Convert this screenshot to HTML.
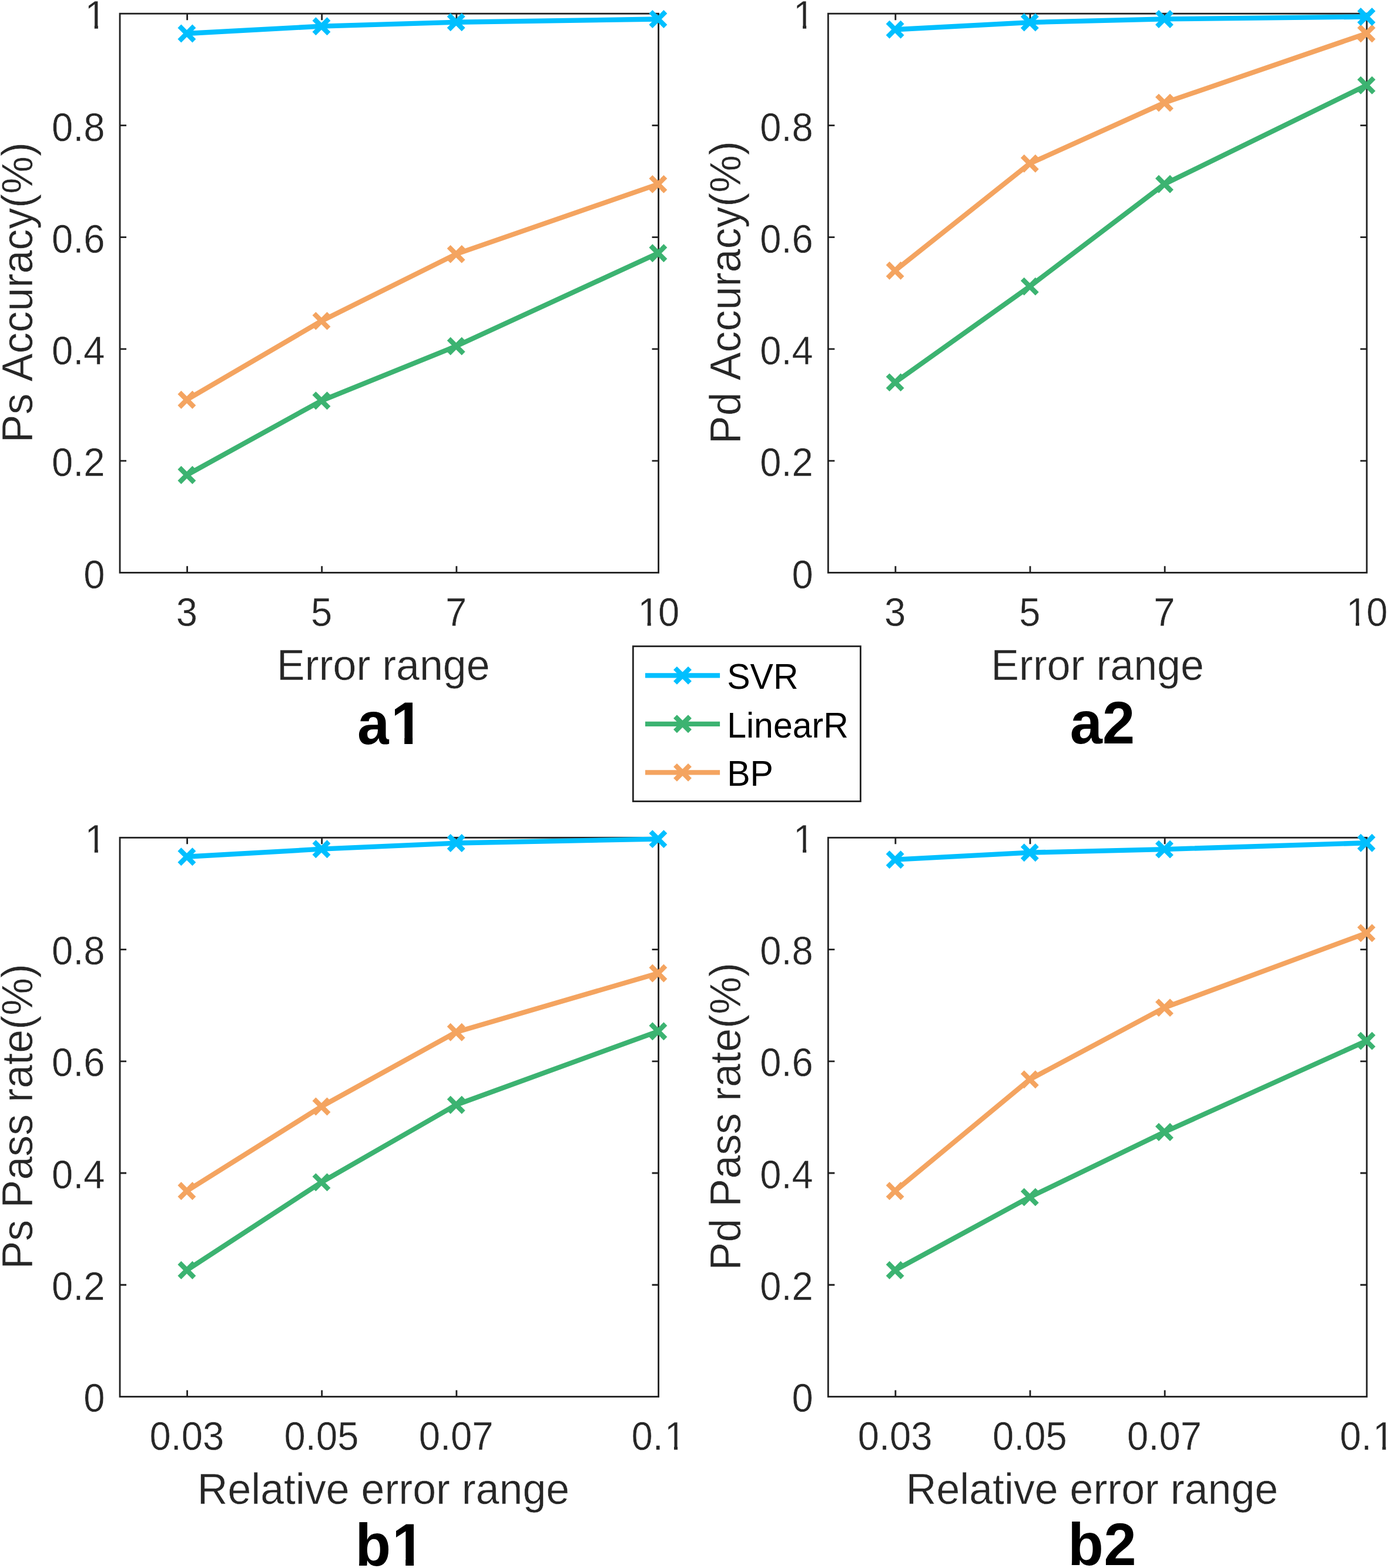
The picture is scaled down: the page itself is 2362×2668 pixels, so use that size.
<!DOCTYPE html>
<html lang="en">
<head>
<meta charset="utf-8">
<title>Accuracy and pass rate versus error range</title>
<style>
html,body{margin:0;padding:0;background:#fff;}
body{width:2362px;height:2668px;overflow:hidden;}
svg{display:block;}
text{font-family:"Liberation Sans",Arial,Helvetica,sans-serif;font-kerning:none;}
.tk{font-size:65.2px;fill:#262626;stroke:#fff;stroke-width:0.45px;}
.lb{font-size:71.7px;fill:#262626;stroke:#fff;stroke-width:0.5px;}
.yl{letter-spacing:0.1px;}
.tt{font-size:99.2px;font-weight:bold;fill:#000;}
.lg{font-size:59.0px;fill:#000;}
.ax{stroke:#202020;stroke-width:2.8;fill:none;}
.ln{fill:none;stroke-width:8.33;stroke-linejoin:round;stroke-linecap:butt;}
.mk{fill:none;stroke-width:8.33;stroke-linecap:butt;}
</style>
</head>
<body>
<svg width="2362" height="2668" viewBox="0 0 2362 2668">
<rect x="0" y="0" width="2362" height="2668" fill="#ffffff"/>

<defs><clipPath id="c10m"><path clip-rule="evenodd" d="M-120 -90H120V30H-120Z M-37.46 -6.07H-18.22V8H-37.46Z M-12.15 -6.07H0.12V8H-12.15Z"/></clipPath><clipPath id="c1e"><path clip-rule="evenodd" d="M-120 -90H120V30H-120Z M-36.96 -6.07H-17.72V8H-36.96Z M-11.65 -6.07H0.62V8H-11.65Z"/></clipPath><clipPath id="cta1"><path clip-rule="evenodd" d="M-20 -110H160V40H-20Z M54.2 -11.32H80.2V8H54.2Z M94.11 -11.32H111.11V8H94.11Z"/></clipPath><clipPath id="c0p1m"><path clip-rule="evenodd" d="M-120 -90H120V30H-120Z M7.86 -6.07H27.1V8H7.86Z M33.17 -6.07H45.43V8H33.17Z"/></clipPath><clipPath id="ctb1"><path clip-rule="evenodd" d="M-20 -110H160V40H-20Z M59.8 -11.32H85.8V8H59.8Z M99.71 -11.32H116.71V8H99.71Z"/></clipPath></defs>
<g id="a1">
<rect class="ax" x="204" y="23.2" width="916.6" height="951.2"/>
<path class="ax" d="M318.57 974.4v-11.05M318.57 23.2v11.05M547.73 974.4v-11.05M547.73 23.2v11.05M776.88 974.4v-11.05M776.88 23.2v11.05M204 784.16h11.05M1120.6 784.16h-11.05M204 593.92h11.05M1120.6 593.92h-11.05M204 403.68h11.05M1120.6 403.68h-11.05M204 213.44h11.05M1120.6 213.44h-11.05"/>
<text class="tk" transform="translate(317.88 1065.4) scale(1 1.05)" text-anchor="middle">3</text>
<text class="tk" transform="translate(547.02 1065.4) scale(1 1.05)" text-anchor="middle">5</text>
<text class="tk" transform="translate(776.17 1065.4) scale(1 1.05)" text-anchor="middle">7</text>
<text class="tk" transform="translate(1119.9 1065.4) scale(1 1.05)" x="-34.46 0" y="0" clip-path="url(#c10m)">10</text>
<text class="tk" transform="translate(178.5 1000.5) scale(1 1.05)" text-anchor="end">0</text>
<text class="tk" transform="translate(178.5 810.26) scale(1 1.05)" text-anchor="end">0.2</text>
<text class="tk" transform="translate(178.5 620.02) scale(1 1.05)" text-anchor="end">0.4</text>
<text class="tk" transform="translate(178.5 429.78) scale(1 1.05)" text-anchor="end">0.6</text>
<text class="tk" transform="translate(178.5 239.54) scale(1 1.05)" text-anchor="end">0.8</text>
<text class="tk" transform="translate(178.5 49.3) scale(1 1.05)" x="-33.96" y="0" clip-path="url(#c1e)">1</text>
<text class="lb" transform="translate(652.3 1157.1) scale(1 1.026)" text-anchor="middle">Error range</text>
<text class="lb yl" transform="translate(54.9 497.6) rotate(-90) scale(1 1.035)" text-anchor="middle">Ps Accuracy(%)</text>
<text class="tt" transform="translate(608 1265.6) scale(1 1.03)" x="0 57.2" y="0" clip-path="url(#cta1)">a1</text>
<polyline class="ln" stroke="#3CB371" points="317.88,808.23 547.02,681.81 776.17,588.97 1119.9,430.79"/>
<path class="mk" stroke="#3CB371" d="M305.38 795.73L330.38 820.73M305.38 820.73L330.38 795.73M534.52 669.31L559.52 694.31M534.52 694.31L559.52 669.31M763.67 576.47L788.67 601.47M763.67 601.47L788.67 576.47M1107.4 418.29L1132.4 443.29M1107.4 443.29L1132.4 418.29"/>
<polyline class="ln" stroke="#F4A460" points="317.88,680.19 547.02,546.17 776.17,432.41 1119.9,313.41"/>
<path class="mk" stroke="#F4A460" d="M305.38 667.69L330.38 692.69M305.38 692.69L330.38 667.69M534.52 533.67L559.52 558.67M534.52 558.67L559.52 533.67M763.67 419.91L788.67 444.91M763.67 444.91L788.67 419.91M1107.4 300.91L1132.4 325.91M1107.4 325.91L1132.4 300.91"/>
<polyline class="ln" stroke="#00BFFF" points="317.88,56.97 547.02,44.7 776.17,37.75 1119.9,32.52"/>
<path class="mk" stroke="#00BFFF" d="M305.38 44.47L330.38 69.47M305.38 69.47L330.38 44.47M534.52 32.2L559.52 57.2M534.52 57.2L559.52 32.2M763.67 25.25L788.67 50.25M763.67 50.25L788.67 25.25M1107.4 20.02L1132.4 45.02M1107.4 45.02L1132.4 20.02"/>
</g>
<g id="a2">
<rect class="ax" x="1409.3" y="23.2" width="916.6" height="951.2"/>
<path class="ax" d="M1523.88 974.4v-11.05M1523.88 23.2v11.05M1753.03 974.4v-11.05M1753.03 23.2v11.05M1982.17 974.4v-11.05M1982.17 23.2v11.05M1409.3 784.16h11.05M2325.9 784.16h-11.05M1409.3 593.92h11.05M2325.9 593.92h-11.05M1409.3 403.68h11.05M2325.9 403.68h-11.05M1409.3 213.44h11.05M2325.9 213.44h-11.05"/>
<text class="tk" transform="translate(1523.17 1065.4) scale(1 1.05)" text-anchor="middle">3</text>
<text class="tk" transform="translate(1752.33 1065.4) scale(1 1.05)" text-anchor="middle">5</text>
<text class="tk" transform="translate(1981.47 1065.4) scale(1 1.05)" text-anchor="middle">7</text>
<text class="tk" transform="translate(2325.2 1065.4) scale(1 1.05)" x="-34.46 0" y="0" clip-path="url(#c10m)">10</text>
<text class="tk" transform="translate(1383.8 1000.5) scale(1 1.05)" text-anchor="end">0</text>
<text class="tk" transform="translate(1383.8 810.26) scale(1 1.05)" text-anchor="end">0.2</text>
<text class="tk" transform="translate(1383.8 620.02) scale(1 1.05)" text-anchor="end">0.4</text>
<text class="tk" transform="translate(1383.8 429.78) scale(1 1.05)" text-anchor="end">0.6</text>
<text class="tk" transform="translate(1383.8 239.54) scale(1 1.05)" text-anchor="end">0.8</text>
<text class="tk" transform="translate(1383.8 49.3) scale(1 1.05)" x="-33.96" y="0" clip-path="url(#c1e)">1</text>
<text class="lb" transform="translate(1867.5 1157.1) scale(1 1.026)" text-anchor="middle">Error range</text>
<text class="lb yl" transform="translate(1260.2 497.6) rotate(-90) scale(1 1.035)" text-anchor="middle">Pd Accuracy(%)</text>
<text class="tt" transform="translate(1820.8 1264.8) scale(1 1.03)" x="0 55.2" y="0">a2</text>
<polyline class="ln" stroke="#3CB371" points="1523.17,650.61 1752.33,487.39 1981.47,313.32 2325.2,145.14"/>
<path class="mk" stroke="#3CB371" d="M1510.67 638.11L1535.67 663.11M1510.67 663.11L1535.67 638.11M1739.83 474.89L1764.83 499.89M1739.83 499.89L1764.83 474.89M1968.97 300.82L1993.97 325.82M1968.97 325.82L1993.97 300.82M2312.7 132.64L2337.7 157.64M2312.7 157.64L2337.7 132.64"/>
<polyline class="ln" stroke="#F4A460" points="1523.17,460.56 1752.33,278.31 1981.47,174.92 2325.2,56.97"/>
<path class="mk" stroke="#F4A460" d="M1510.67 448.06L1535.67 473.06M1510.67 473.06L1535.67 448.06M1739.83 265.81L1764.83 290.81M1739.83 290.81L1764.83 265.81M1968.97 162.42L1993.97 187.42M1968.97 187.42L1993.97 162.42M2312.7 44.47L2337.7 69.47M2312.7 69.47L2337.7 44.47"/>
<polyline class="ln" stroke="#00BFFF" points="1523.17,50.31 1752.33,38.04 1981.47,32.43 2325.2,28.53"/>
<path class="mk" stroke="#00BFFF" d="M1510.67 37.81L1535.67 62.81M1510.67 62.81L1535.67 37.81M1739.83 25.54L1764.83 50.54M1739.83 50.54L1764.83 25.54M1968.97 19.93L1993.97 44.93M1968.97 44.93L1993.97 19.93M2312.7 16.03L2337.7 41.03M2312.7 41.03L2337.7 16.03"/>
</g>
<g id="b1">
<rect class="ax" x="204" y="1425.3" width="916.6" height="951.2"/>
<path class="ax" d="M318.57 2376.5v-11.05M318.57 1425.3v11.05M547.73 2376.5v-11.05M547.73 1425.3v11.05M776.88 2376.5v-11.05M776.88 1425.3v11.05M204 2186.26h11.05M1120.6 2186.26h-11.05M204 1996.02h11.05M1120.6 1996.02h-11.05M204 1805.78h11.05M1120.6 1805.78h-11.05M204 1615.54h11.05M1120.6 1615.54h-11.05"/>
<text class="tk" transform="translate(317.88 2466.6) scale(1 1.05)" text-anchor="middle">0.03</text>
<text class="tk" transform="translate(547.02 2466.6) scale(1 1.05)" text-anchor="middle">0.05</text>
<text class="tk" transform="translate(776.17 2466.6) scale(1 1.05)" text-anchor="middle">0.07</text>
<text class="tk" transform="translate(1119.9 2466.6) scale(1 1.05)" x="-45.32 -9.06 10.86" y="0" clip-path="url(#c0p1m)">0.1</text>
<text class="tk" transform="translate(178.5 2402.2) scale(1 1.05)" text-anchor="end">0</text>
<text class="tk" transform="translate(178.5 2211.96) scale(1 1.05)" text-anchor="end">0.2</text>
<text class="tk" transform="translate(178.5 2021.72) scale(1 1.05)" text-anchor="end">0.4</text>
<text class="tk" transform="translate(178.5 1831.48) scale(1 1.05)" text-anchor="end">0.6</text>
<text class="tk" transform="translate(178.5 1641.24) scale(1 1.05)" text-anchor="end">0.8</text>
<text class="tk" transform="translate(178.5 1451) scale(1 1.05)" x="-33.96" y="0" clip-path="url(#c1e)">1</text>
<text class="lb" transform="translate(652.4 2559.2) scale(1 1.026)" text-anchor="middle">Relative error range</text>
<text class="lb yl" transform="translate(54.9 1899.7) rotate(-90) scale(1 1.035)" text-anchor="middle">Ps Pass rate(%)</text>
<text class="tt" transform="translate(604.4 2663.5) scale(1 1.03)" x="0 62.8" y="0" clip-path="url(#ctb1)">b1</text>
<polyline class="ln" stroke="#3CB371" points="317.88,2161.24 547.02,2011.62 776.17,1879.97 1119.9,1754.8"/>
<path class="mk" stroke="#3CB371" d="M305.38 2148.74L330.38 2173.74M305.38 2173.74L330.38 2148.74M534.52 1999.12L559.52 2024.12M534.52 2024.12L559.52 1999.12M763.67 1867.47L788.67 1892.47M763.67 1892.47L788.67 1867.47M1107.4 1742.3L1132.4 1767.3M1107.4 1767.3L1132.4 1742.3"/>
<polyline class="ln" stroke="#F4A460" points="317.88,2026.55 547.02,1882.73 776.17,1756.22 1119.9,1655.97"/>
<path class="mk" stroke="#F4A460" d="M305.38 2014.05L330.38 2039.05M305.38 2039.05L330.38 2014.05M534.52 1870.23L559.52 1895.23M534.52 1895.23L559.52 1870.23M763.67 1743.72L788.67 1768.72M763.67 1768.72L788.67 1743.72M1107.4 1643.47L1132.4 1668.47M1107.4 1668.47L1132.4 1643.47"/>
<polyline class="ln" stroke="#00BFFF" points="317.88,1457.74 547.02,1444.7 776.17,1434.53 1119.9,1427.58"/>
<path class="mk" stroke="#00BFFF" d="M305.38 1445.24L330.38 1470.24M305.38 1470.24L330.38 1445.24M534.52 1432.2L559.52 1457.2M534.52 1457.2L559.52 1432.2M763.67 1422.03L788.67 1447.03M763.67 1447.03L788.67 1422.03M1107.4 1415.08L1132.4 1440.08M1107.4 1440.08L1132.4 1415.08"/>
</g>
<g id="b2">
<rect class="ax" x="1409.3" y="1425.3" width="916.6" height="951.2"/>
<path class="ax" d="M1523.88 2376.5v-11.05M1523.88 1425.3v11.05M1753.03 2376.5v-11.05M1753.03 1425.3v11.05M1982.17 2376.5v-11.05M1982.17 1425.3v11.05M1409.3 2186.26h11.05M2325.9 2186.26h-11.05M1409.3 1996.02h11.05M2325.9 1996.02h-11.05M1409.3 1805.78h11.05M2325.9 1805.78h-11.05M1409.3 1615.54h11.05M2325.9 1615.54h-11.05"/>
<text class="tk" transform="translate(1523.17 2466.6) scale(1 1.05)" text-anchor="middle">0.03</text>
<text class="tk" transform="translate(1752.33 2466.6) scale(1 1.05)" text-anchor="middle">0.05</text>
<text class="tk" transform="translate(1981.47 2466.6) scale(1 1.05)" text-anchor="middle">0.07</text>
<text class="tk" transform="translate(2325.2 2466.6) scale(1 1.05)" x="-45.32 -9.06 10.86" y="0" clip-path="url(#c0p1m)">0.1</text>
<text class="tk" transform="translate(1383.8 2402.2) scale(1 1.05)" text-anchor="end">0</text>
<text class="tk" transform="translate(1383.8 2211.96) scale(1 1.05)" text-anchor="end">0.2</text>
<text class="tk" transform="translate(1383.8 2021.72) scale(1 1.05)" text-anchor="end">0.4</text>
<text class="tk" transform="translate(1383.8 1831.48) scale(1 1.05)" text-anchor="end">0.6</text>
<text class="tk" transform="translate(1383.8 1641.24) scale(1 1.05)" text-anchor="end">0.8</text>
<text class="tk" transform="translate(1383.8 1451) scale(1 1.05)" x="-33.96" y="0" clip-path="url(#c1e)">1</text>
<text class="lb" transform="translate(1858.4 2559.2) scale(1 1.026)" text-anchor="middle">Relative error range</text>
<text class="lb yl" transform="translate(1260.2 1899.7) rotate(-90) scale(1 1.035)" text-anchor="middle">Pd Pass rate(%)</text>
<text class="tt" transform="translate(1817.2 2663) scale(1 1.03)" x="0 61.4" y="0">b2</text>
<polyline class="ln" stroke="#3CB371" points="1523.17,2161.24 1752.33,2036.92 1981.47,1926.3 2325.2,1771.16"/>
<path class="mk" stroke="#3CB371" d="M1510.67 2148.74L1535.67 2173.74M1510.67 2173.74L1535.67 2148.74M1739.83 2024.42L1764.83 2049.42M1739.83 2049.42L1764.83 2024.42M1968.97 1913.8L1993.97 1938.8M1968.97 1938.8L1993.97 1913.8M2312.7 1758.66L2337.7 1783.66M2312.7 1783.66L2337.7 1758.66"/>
<polyline class="ln" stroke="#F4A460" points="1523.17,2026.55 1752.33,1836.79 1981.47,1714.66 2325.2,1587.67"/>
<path class="mk" stroke="#F4A460" d="M1510.67 2014.05L1535.67 2039.05M1510.67 2039.05L1535.67 2014.05M1739.83 1824.29L1764.83 1849.29M1739.83 1849.29L1764.83 1824.29M1968.97 1702.16L1993.97 1727.16M1968.97 1727.16L1993.97 1702.16M2312.7 1575.17L2337.7 1600.17M2312.7 1600.17L2337.7 1575.17"/>
<polyline class="ln" stroke="#00BFFF" points="1523.17,1462.68 1752.33,1450.7 1981.47,1445.08 2325.2,1434.24"/>
<path class="mk" stroke="#00BFFF" d="M1510.67 1450.18L1535.67 1475.18M1510.67 1475.18L1535.67 1450.18M1739.83 1438.2L1764.83 1463.2M1739.83 1463.2L1764.83 1438.2M1968.97 1432.58L1993.97 1457.58M1968.97 1457.58L1993.97 1432.58M2312.7 1421.74L2337.7 1446.74M2312.7 1446.74L2337.7 1421.74"/>
</g>
<g id="legend">
<rect x="1077.3" y="1099.7" width="387.1" height="263.8" fill="#fff" stroke="#202020" stroke-width="2.8"/>
<path class="ln" stroke="#00BFFF" d="M1098 1149.4H1225.1"/>
<path class="mk" stroke="#00BFFF" d="M1149 1136.9L1174 1161.9M1149 1161.9L1174 1136.9"/>
<text class="lg" transform="translate(1237.2 1171.8) scale(1 1.02)">SVR</text>
<path class="ln" stroke="#3CB371" d="M1098 1231.8H1225.1"/>
<path class="mk" stroke="#3CB371" d="M1149 1219.3L1174 1244.3M1149 1244.3L1174 1219.3"/>
<text class="lg" transform="translate(1237.2 1254.7) scale(1 1.02)">LinearR</text>
<path class="ln" stroke="#F4A460" d="M1098 1314.4H1225.1"/>
<path class="mk" stroke="#F4A460" d="M1149 1301.9L1174 1326.9M1149 1326.9L1174 1301.9"/>
<text class="lg" transform="translate(1237.2 1337) scale(1 1.02)">BP</text>
</g>
</svg>
</body>
</html>
